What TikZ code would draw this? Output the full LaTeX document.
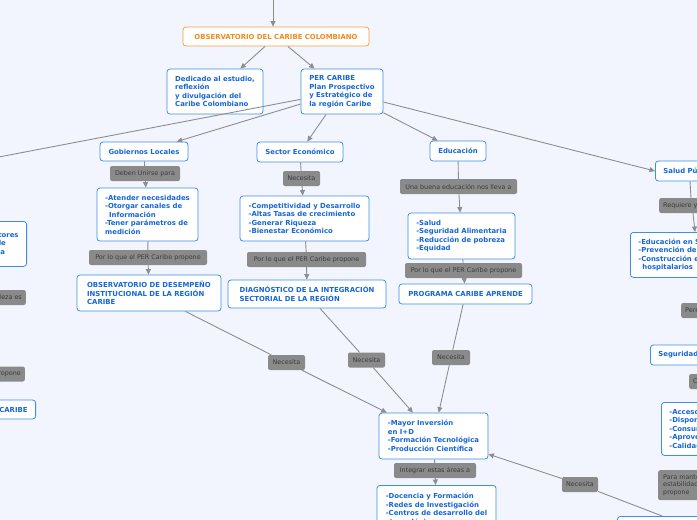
\documentclass[tikz,border=0pt]{standalone}
\usepackage{fontspec}
\setmainfont{DejaVu Sans}
\usetikzlibrary{positioning,arrows.meta,calc}
\definecolor{bgpale}{HTML}{F2F5FD}
\definecolor{boxblue}{HTML}{3D8EEA}
\definecolor{txtblue}{HTML}{1766D6}
\definecolor{rootorange}{HTML}{F5A03A}
\definecolor{roottxt}{HTML}{F08A1C}
\definecolor{taggray}{HTML}{8A8A8A}
\definecolor{tagtxt}{HTML}{3C3C3C}
\definecolor{linkgray}{HTML}{8E8E8E}

\begin{document}
\begin{tikzpicture}[
    x=1pt, y=-1pt,
    topic/.style={draw=boxblue, fill=white, line width=0.8pt, rounded corners=3pt,
      text=txtblue, font=\bfseries\fontsize{6.9}{8.5}\selectfont, align=left, inner sep=0pt},
    rootbox/.style={topic, draw=rootorange, text=roottxt},
    tag/.style={fill=taggray, rounded corners=2pt, text=tagtxt,
      font=\fontsize{6.4}{7.5}\selectfont, align=left, inner sep=0pt, minimum height=15pt},
    tie/.style={draw=linkgray, line width=0.9pt},
    link/.style={tie, -{Triangle[length=5.5pt, width=5pt]}},
  ]
  \fill[bgpale] (0,0) rectangle (697,520);
  \useasboundingbox (0,0) rectangle (697,520);
  \clip (0,0) rectangle (697,520);

  % Top: root and its two children.
  \node[rootbox, minimum width=186pt, minimum height=19pt, align=center] (root) at (276,36.5)
    {OBSERVATORIO DEL CARIBE COLOMBIANO};
  \coordinate (topin) at (273,-30);
  \node[topic, minimum width=96pt, minimum height=45pt] (dedic) at (215,91.5)
    {Dedicado al estudio,\\reflexión\\y divulgación del\\Caribe Colombiano};
  \node[topic, minimum width=82pt, minimum height=45pt] (per) at (342,91.5)
    {PER CARIBE\\Plan Prospectivo\\y Estratégico de\\la región Caribe};
  \draw[link] (topin) -- (topin |- root.north);
  \draw[link] (root) -- (dedic);
  \draw[link] (root) -- (per);

  % Branch: Gobiernos Locales.
  \node[topic, minimum width=88pt, minimum height=19pt] (gob) at (144,151.5) {Gobiernos Locales};
  \node[tag, minimum width=70pt, align=center] (tDeben) at (145,173.5) {Deben Unirse para};
  \node[topic, minimum width=101pt, minimum height=53pt] (atender) at (147.5,214.5)
    {-Atender necesidades\\-Otorgar canales de\\\hspace{4pt}Información\\-Tener parámetros de\\medición};
  \node[tag, minimum width=118pt, align=center] (tPor1) at (148,257.5) {Por lo que el PER Caribe propone};
  \node[topic, minimum width=144pt, minimum height=36pt] (obsdes) at (149,293)
    {OBSERVATORIO DE DESEMPEÑO\\INSTITUCIONAL DE LA REGIÓN\\CARIBE};
  \draw[link] (per) -- (gob);
  \draw[tie] (gob) -- (tDeben);
  \draw[link] (tDeben) -- (atender);
  \draw[tie] (atender) -- (tPor1);
  \draw[link] (tPor1) -- (obsdes);

  % Branch: Sector Económico.
  \node[topic, minimum width=86pt, minimum height=20pt] (sector) at (300,152) {Sector Económico};
  \node[tag, minimum width=37pt, align=center] (tNec1) at (301.5,178.5) {Necesita};
  \node[topic, minimum width=129pt, minimum height=45pt] (compet) at (304.5,218.5)
    {-Competitividad y Desarrollo\\-Altas Tasas de crecimiento\\-Generar Riqueza\\-Bienestar Económico};
  \node[tag, minimum width=119pt, align=center] (tPor2) at (306.5,259.5) {Por lo que el PER Caribe propone};
  \node[topic, minimum width=158pt, minimum height=28pt] (diag) at (307,294)
    {DIAGNÓSTICO DE LA INTEGRACIÓN\\SECTORIAL DE LA REGIÓN};
  \draw[link] (per) -- (sector);
  \draw[tie] (sector) -- (tNec1);
  \draw[link] (tNec1) -- (compet);
  \draw[tie] (compet) -- (tPor2);
  \draw[link] (tPor2) -- (diag);

  % Branch: Educación.
  \node[topic, minimum width=56pt, minimum height=20pt] (edu) at (458,151) {Educación};
  \node[tag, minimum width=117pt, align=center] (tUna) at (458.5,186.5) {Una buena educación nos lleva a};
  \node[topic, minimum width=107pt, minimum height=46pt] (salud) at (461.5,236)
    {-Salud\\-Seguridad Alimentaria\\-Reducción de pobreza\\-Equidad};
  \node[tag, minimum width=117pt, align=center] (tPor3) at (463.5,270.5) {Por lo que el PER Caribe propone};
  \node[topic, minimum width=133pt, minimum height=20pt] (prog) at (465.5,294) {PROGRAMA CARIBE APRENDE};
  \draw[link] (per) -- (edu);
  \draw[tie] (edu) -- (tUna);
  \draw[link] (tUna) -- (salud);
  \draw[tie] (salud) -- (tPor3);
  \draw[link] (tPor3) -- (prog);

  % Branch: Salud Pública (cut by the right edge).
  \node[topic, anchor=west, inner xsep=8pt, minimum height=20pt] (saludp) at (655,171) {Salud Pública};
  \node[tag, anchor=west, inner xsep=4pt] (tReq) at (659,205.5) {Requiere y promueve};
  \node[topic, anchor=north west, inner xsep=8pt, minimum height=45pt] (salbox) at (630,232)
    {-Educación en Salud\\-Prevención de enfermedades\\-Construcción en centros\\\hspace{4pt}hospitalarios};
  \node[tag, anchor=west, inner xsep=4pt] (tPerm) at (681,310.5) {Permite};
  \node[topic, anchor=west, inner xsep=8pt, minimum height=20pt] (segur) at (650,355) {Seguridad Alimentaria};
  \node[tag, anchor=west, inner xsep=4pt] (tComp) at (689,381.5) {Comprende};
  \node[topic, anchor=north west, inner xsep=8pt, minimum height=53pt] (acceso) at (661,402)
    {-Acceso\\-Disponibilidad\\-Consumo\\-Aprovechamiento\\-Calidad};
  \node[tag, anchor=north west, inner xsep=5pt, minimum height=30pt] (tPara) at (658,470)
    {Para mantener la\\estabilidad alimentaria\\propone};
  \node[topic, anchor=north west, minimum width=196pt, minimum height=40pt] (brbox) at (617,516) {};
  \draw[link] (per) -- (saludp.west);
  \draw[tie] ($(saludp.south west)+(35,0)$) -- ($(tReq.north west)+(32,0)$);
  \draw[link] ($(tReq.south west)+(34,0)$) -- ($(salbox.north west)+(65,0)$);

  % Left side (cut by the left edge).
  \coordinate (offL) at (-200,195);
  \draw[tie] (per) -- (offL);
  \node[topic, anchor=north east, inner xsep=8pt, minimum height=45pt] (lbox) at (27,221)
    {-Articular a los actores\\-Gobernanza donde\\-Participación de la};
  \node[tag, anchor=east, inner xsep=4pt] (tEza) at (26,297.5) {Su fortaleza es};
  \node[tag, anchor=east, inner xsep=4pt] (tProp) at (25,374) {Por lo que el PER Caribe propone};
  \node[topic, anchor=east, inner xsep=8pt, minimum height=19pt] (caribeL) at (36,409.5) {RED DE GOBERNANZA CARIBE};

  % Bottom: what all branches need.
  \node[topic, minimum width=109pt, minimum height=46pt] (mayor) at (433.5,436)
    {-Mayor Inversión\\en I+D\\-Formación Tecnológica\\-Producción Científica};
  \node[tag, minimum width=37pt, align=center] (n1) at (286.5,362.5) {Necesita};
  \node[tag, minimum width=37pt, align=center] (n2) at (366.5,360) {Necesita};
  \node[tag, minimum width=38pt, align=center] (n3) at (451,357.5) {Necesita};
  \node[tag, minimum width=36pt, align=center] (n4) at (580,484.5) {Necesita};
  \foreach \src/\lab in {obsdes/n1, diag/n2, prog/n3, brbox/n4} {
    \draw[tie] (\src) -- (\lab);
    \draw[link] (\lab) -- (mayor);
  }
  \node[tag, minimum width=82pt, align=center] (tInt) at (435,470.5) {Integrar estas áreas a};
  \node[topic, anchor=north, minimum width=119pt, minimum height=48pt, inner ysep=5pt] (docen) at (436.5,485)
    {-Docencia y Formación\\-Redes de Investigación\\-Centros de desarrollo del\\\hspace{4pt}tecnológico};
  \draw[tie] (mayor) -- (tInt);
  \draw[link] (tInt) -- (docen);
\end{tikzpicture}
\end{document}
